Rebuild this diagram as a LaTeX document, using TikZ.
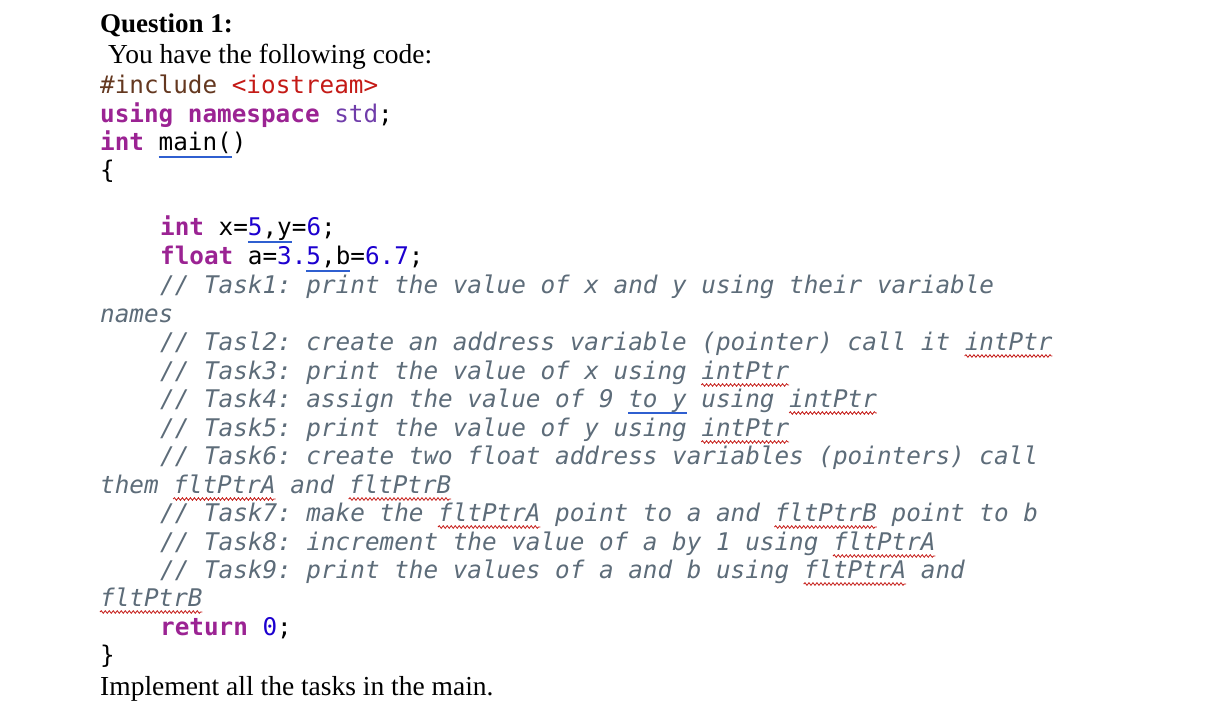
\documentclass[tikz,border=0pt]{standalone}
\usepackage{fontspec}
\setmainfont{Liberation Serif}
\newfontfamily\mono[WordSpace={1,0,0},PunctuationSpace=WordSpace]{DejaVu Sans Mono}
\usetikzlibrary{decorations.pathmorphing}
\definecolor{kw}{HTML}{9B2393}
\definecolor{sd}{HTML}{703DAA}
\definecolor{cm}{HTML}{5D6C79}
\definecolor{nm}{HTML}{1C00CF}
\definecolor{inc}{HTML}{643820}
\definecolor{st}{HTML}{C41A16}
\definecolor{ul}{HTML}{2F5FD0}
\tikzset{
  txt/.style={anchor=base west,inner sep=0pt,font=\fontsize{27.5}{32}\selectfont},
  code/.style={anchor=base west,inner sep=0pt,font=\mono\frenchspacing\fontsize{24.3}{29}\selectfont},
  cmt/.style={code,text=cm,font=\mono\frenchspacing\itshape\fontsize{24.3}{29}\selectfont},
  wavy/.style={draw=st,line width=0.8pt,decorate,decoration={snake,amplitude=1.3pt,segment length=4pt}},
  bul/.style={draw=ul,line width=1.2pt}
}
\newcommand\kwd[1]{\textcolor{kw}{\bfseries #1}}
\def\cw{14.63}
\begin{document}
\begin{tikzpicture}[x=1pt,y=-1pt]
\useasboundingbox (0,0) rectangle (1224,722);
\node[txt,font=\bfseries\fontsize{27}{32}\selectfont] (q) at (100,33) {Question 1:};
\node[txt] (y) at (108,64) {You have the following code:};
\node[code] (l1) at (100,94) {\textcolor{inc}{\#include} \textcolor{st}{<iostream>}};
\node[code] (l2) at (100,123) {\kwd{using namespace} \textcolor{sd}{std};};
\node[code] (l3) at (100,151) {\kwd{int} main()};
\node[code] (l4) at (100,179) {\{};
\node[code] (l5) at (160,236) {\kwd{int} x=\textcolor{nm}{5},y=\textcolor{nm}{6};};
\node[code] (l6) at (160,265) {\kwd{float} a=\textcolor{nm}{3.5},b=\textcolor{nm}{6.7};};
\node[cmt] (c1) at (160,294) {// Task1: print the value of x and y using their variable};
\node[cmt] (c1b) at (100,322) {names};
\node[cmt] (c2) at (160,350) {// Tasl2: create an address variable (pointer) call it intPtr};
\node[cmt] (c3) at (160,379) {// Task3: print the value of x using intPtr};
\node[cmt] (c4) at (160,407) {// Task4: assign the value of 9 to y using intPtr};
\node[cmt] (c5) at (160,436) {// Task5: print the value of y using intPtr};
\node[cmt] (c6) at (160,464) {// Task6: create two float address variables (pointers) call};
\node[cmt] (c6b) at (100,493) {them fltPtrA and fltPtrB};
\node[cmt] (c7) at (160,521) {// Task7: make the fltPtrA point to a and fltPtrB point to b};
\node[cmt] (c8) at (160,550) {// Task8: increment the value of a by 1 using fltPtrA};
\node[cmt] (c9) at (160,578) {// Task9: print the values of a and b using fltPtrA and};
\node[cmt] (c9b) at (100,606) {fltPtrB};
\node[code] (r) at (160,635) {\kwd{return} \textcolor{nm}{0};};
\node[code] (e) at (100,663) {\}};
\node[txt] (im) at (100,695) {Implement all the tasks in the main.};
% blue underlines
\draw[bul] (100+4*\cw,157) -- (100+9*\cw,157);
\draw[bul] (160+6*\cw,242) -- (160+9*\cw,242);
\draw[bul] (160+10*\cw,271) -- (160+13*\cw,271);
\draw[bul] (160+32*\cw,413) -- (160+36*\cw,413);
% red wavy underlines
\draw[wavy] (160+55*\cw,356) -- (160+61*\cw,356);
\draw[wavy] (160+37*\cw,385) -- (160+43*\cw,385);
\draw[wavy] (160+43*\cw,413) -- (160+49*\cw,413);
\draw[wavy] (160+37*\cw,442) -- (160+43*\cw,442);
\draw[wavy] (100+5*\cw,499) -- (100+12*\cw,499);
\draw[wavy] (100+17*\cw,499) -- (100+24*\cw,499);
\draw[wavy] (160+19*\cw,527) -- (160+26*\cw,527);
\draw[wavy] (160+42*\cw,527) -- (160+49*\cw,527);
\draw[wavy] (160+46*\cw,556) -- (160+53*\cw,556);
\draw[wavy] (160+44*\cw,584) -- (160+51*\cw,584);
\draw[wavy] (100,612) -- (100+7*\cw,612);
\end{tikzpicture}
\end{document}
